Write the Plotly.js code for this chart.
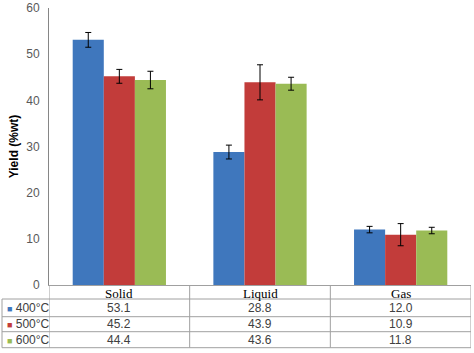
<!DOCTYPE html>
<html>
<head>
<meta charset="utf-8">
<script src="https://cdn.plot.ly/plotly-3.0.1.min.js"></script>
<style>html,body{margin:0;padding:0;background:#fff;}#chart{width:474px;height:353px;}</style>
</head>
<body>
<div id="chart"></div>
<script>
const categories = ["Solid", "Liquid", "Gas"];
const seriesNames = ["400°C", "500°C", "600°C"];
const values400 = [53.1, 28.8, 12.0];
const values500 = [45.2, 43.9, 10.9];
const values600 = [44.4, 43.6, 11.8];
const errors400 = [1.6, 1.5, 0.7];
const errors500 = [1.5, 3.8, 2.4];
const errors600 = [1.9, 1.4, 0.7];
const colors = ["#3f77bd", "#c23c3a", "#9abb55"];

const allValues = [values400, values500, values600];
const allErrors = [errors400, errors500, errors600];

const traces = allValues.map((vals, i) => ({
  type: "bar",
  name: seriesNames[i],
  x: categories,
  y: vals,
  marker: {color: colors[i], line: {width: 0}},
  error_y: {type: "data", array: allErrors[i], visible: true, color: "#000", thickness: 1, width: 3},
  showlegend: false,
  hoverinfo: "none"
}));

// table geometry (paper coords)
const plotTopPx = 8, plotBotPx = 285, plotH = plotBotPx - plotTopPx;
const py = p => (plotBotPx - p) / plotH;
const headerY = py(293);
const rowLines = [py(299), py(316.7), py(331.7), py(347.7)];
const rowCenters = [py(308), py(324.2), py(339.7)];
const leftEdge = -47 / 422;

const shapes = [];
const lineStyle = {color: "#a0a0a0", width: 1};
[-0.5, 0.5, 1.5, 2.5].forEach(xb => {
  shapes.push({type: "line", xref: "x", yref: "paper", x0: xb, x1: xb, y0: 0, y1: rowLines[3], line: lineStyle});
});
shapes.push({type: "line", xref: "paper", yref: "paper", x0: leftEdge, x1: leftEdge, y0: rowLines[0], y1: rowLines[3], line: lineStyle});
rowLines.forEach(yl => {
  shapes.push({type: "line", xref: "paper", yref: "paper", x0: leftEdge, x1: 1, y0: yl, y1: yl, line: lineStyle});
});

const annotations = [];
categories.forEach(c => {
  annotations.push({xref: "x", yref: "paper", x: c, y: headerY, text: c, showarrow: false,
    font: {family: "Liberation Serif, Times New Roman, serif", size: 13, color: "#000"}, yanchor: "middle"});
});
allValues.forEach((vals, i) => {
  annotations.push({xref: "paper", yref: "paper", x: leftEdge + 0.006, y: rowCenters[i], xanchor: "left", yanchor: "middle",
    text: '<span style="color:' + colors[i] + ';font-size:9px">■</span> ' + seriesNames[i], showarrow: false,
    font: {family: "Liberation Sans, Arial, sans-serif", size: 12, color: "#404040"}});
  vals.forEach((v, j) => {
    annotations.push({xref: "x", yref: "paper", x: categories[j], y: rowCenters[i], yanchor: "middle",
      text: v.toFixed(1), showarrow: false,
      font: {family: "Liberation Sans, Arial, sans-serif", size: 12, color: "#404040"}});
  });
});

const layout = {
  width: 474, height: 353,
  margin: {l: 49, r: 3, t: 8, b: 68, pad: 0},
  paper_bgcolor: "#fff", plot_bgcolor: "#fff",
  barmode: "group", bargap: 0.337, bargroupgap: 0,
  xaxis: {type: "category", range: [-0.5, 2.5], showticklabels: false, ticks: "", showgrid: false,
    zeroline: false, showline: true, linecolor: "#a0a0a0", linewidth: 1, fixedrange: true},
  yaxis: {range: [0, 60], dtick: 10, showgrid: false, zeroline: false, showline: true, linecolor: "#868686",
    linewidth: 1, ticks: "", ticklabelstandoff: 6,
    tickfont: {family: "Liberation Sans, Arial, sans-serif", size: 12, color: "#595959"},
    title: {text: "<b>Yield (%wt)</b>", standoff: 5, font: {family: "Liberation Sans, Arial, sans-serif", size: 12, color: "#000"}}},
  shapes: shapes,
  annotations: annotations,
  font: {family: "Liberation Sans, Arial, sans-serif"}
};

Plotly.newPlot("chart", traces, layout, {displayModeBar: false, staticPlot: true});
</script>
</body>
</html>
